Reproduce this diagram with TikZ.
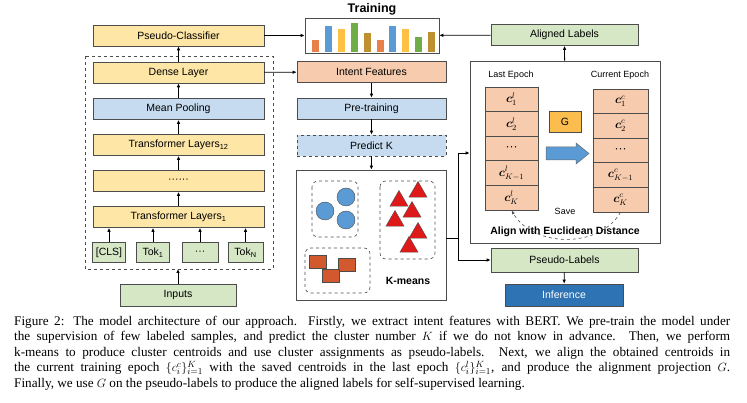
\documentclass[tikz,border=0pt]{standalone}
\usepackage{fontspec}
\usepackage{bm}
\setmainfont{Liberation Serif}
\newfontfamily\diag{Liberation Sans}
\usetikzlibrary{arrows.meta,shapes.geometric}
\definecolor{yel}{HTML}{FDE6A6}
\definecolor{blu}{HTML}{C6DBEF}
\definecolor{grn}{HTML}{D6E7C6}
\definecolor{sal}{HTML}{F7CBAE}
\definecolor{inf}{HTML}{2E73B3}
\definecolor{gcol}{HTML}{FBBE4E}
\definecolor{cbo}{HTML}{E8804A}
\definecolor{cbb}{HTML}{5B9BD5}
\definecolor{cby}{HTML}{FFC145}
\definecolor{cbg}{HTML}{70AD47}
\definecolor{cbr}{HTML}{BF9030}
\begin{document}
\begin{tikzpicture}[x=1pt,y=-1pt,
  box/.style={draw=black!70,line width=0.6pt,inner sep=0pt,font=\diag\fontsize{10.5}{12}\selectfont},
  yb/.style={box,fill=yel,minimum width=171pt,minimum height=21pt},
  lbb/.style={box,fill=blu,minimum width=171pt,minimum height=21pt},
  tk/.style={box,fill=grn,minimum width=33pt,minimum height=20pt},
  rb/.style={box,minimum width=149pt,minimum height=21pt},
  arr/.style={-{Latex[length=4pt,width=3.5pt]},line width=0.8pt},
  cell/.style={box,fill=sal,minimum width=53pt,minimum height=24.6pt,font=\fontsize{12}{13}\selectfont},
  grp/.style={draw=black!70,dashed,rounded corners=6pt,line width=0.6pt}]
\useasboundingbox (0,0) rectangle (747,403);
% left column
\draw[dashed,line width=0.6pt,black!70] (85,56) rectangle (273,269);
\node[yb] (pc) at (178.5,35.5) {Pseudo-Classifier};
\node[yb] (dl) at (178.5,72.5) {Dense Layer};
\node[lbb] (mp) at (178.5,109) {Mean Pooling};
\node[yb] (t12) at (178.5,145) {Transformer Layers\textsubscript{12}};
\node[yb] (td) at (178.5,181) {\textperiodcentered\textperiodcentered\textperiodcentered\textperiodcentered\textperiodcentered\textperiodcentered};
\node[yb] (t1) at (178.5,217) {Transformer Layers\textsubscript{1}};
\node[tk] (cls) at (109,252.5) {[CLS]};
\node[tk] (tok1) at (153,252.5) {Tok\textsubscript{1}};
\node[tk,minimum width=36pt] (tokd) at (200,252.5) {\textperiodcentered\textperiodcentered\textperiodcentered};
\node[tk,minimum width=35pt] (tokn) at (245.5,252.5) {Tok\textsubscript{N}};
\node[box,fill=grn,minimum width=116pt,minimum height=22pt] (inp) at (178,295) {Inputs};
\coordinate (dbot) at (178,269);
\draw[arr] (inp) -- (dbot);
\foreach \t in {cls,tok1,tokd,tokn} \draw[arr] (\t) -- (\t |- t1.south);
\draw[arr] (t1) -- (td);
\draw[arr] (td) -- (t12);
\draw[arr] (t12) -- (mp);
\draw[arr] (mp) -- (dl);
\draw[arr] (dl) -- (pc);
% training
\node[font=\diag\bfseries\fontsize{12.5}{14}\selectfont] (tr) at (372,9) {Training};
\node[draw=black!70,line width=0.6pt,minimum width=134pt,minimum height=35pt,inner sep=0] (bars) at (372,35.5) {};
\foreach \x/\t/\c in {0/40/cbo,1/26/cbb,2/29/cby,3/23/cbg,4/33/cbr,5/40/cbo,6/26/cbb,7/29/cby,8/37/cbg,9/32/cbr}
  \fill[\c] (312+\x*12.9,52) rectangle (319+\x*12.9,\t);
\draw[arr] (pc) -- (bars);
% middle
\node[rb,fill=sal] (if) at (371.5,72) {Intent Features};
\node[rb,fill=blu] (pt) at (371.5,108.5) {Pre-training};
\node[rb,fill=blu,dashed] (pk) at (371.5,145.5) {Predict K};
\node[draw=black!70,line width=0.6pt,minimum width=150pt,minimum height=130pt,inner sep=0] (km) at (371,235) {};
\draw[arr] (dl) -- (if);
\draw[arr] (if) -- (pt);
\draw[arr] (pt) -- (pk);
\draw[arr] (pk) -- (km);
\draw[grp] (312,181) rectangle (358,237);
\foreach \p in {(325,211),(346,197),(346,220)} \node[circle,fill=cbb,draw=black!70,minimum size=18pt,inner sep=0] at \p {};
\draw[grp] (380,181) rectangle (435,259);
\foreach \p in {(399,201),(418,192),(412,212),(395,221),(418,233),(409,247)}
  \node[regular polygon,regular polygon sides=3,fill=red!85!black!90,draw=black!70,minimum size=21pt,inner sep=0] at \p {};
\draw[grp] (305,248) rectangle (370,293);
\foreach \p in {(318,262),(347,265),(331,276)}
  \node[fill=brown!70!red,draw=black!70,minimum width=17pt,minimum height=13pt,inner sep=0] at \p {};
\node[font=\diag\bfseries\fontsize{10.5}{12}\selectfont] (kml) at (408,281) {K-means};
% right
\node[rb,fill=grn,minimum width=147pt] (al) at (564.5,35) {Aligned Labels};
\node[draw=black!70,line width=0.6pt,minimum width=190pt,minimum height=182pt,inner sep=0] (ab) at (565,152) {};
\node[rb,fill=grn,minimum width=147pt,minimum height=24pt] (pl) at (564.5,260) {Pseudo-Labels};
\node[box,fill=inf,text=white,minimum width=118pt,minimum height=22pt] (inf) at (564,295) {Inference};
\draw[arr] (al) -- (bars);
\draw[arr] (ab) -- (al);
\draw[arr] (pl) -- (inf);
\coordinate (kmo) at (446,238);
\coordinate (sp) at (458,238);
\draw[line width=0.8pt] (kmo) -- (sp);
\draw[arr] (sp) |- (ab.west |- 0,153);
\draw[arr] (sp) |- (pl.west);
\node[font=\diag\fontsize{9}{10}\selectfont] (le) at (511,75) {Last Epoch};
\node[font=\diag\fontsize{9}{10}\selectfont] (ce) at (620,75) {Current Epoch};
\foreach \i/\lab in {0/{$\bm{c}^{l}_{1}$},1/{$\bm{c}^{l}_{2}$},2/{\diag\textperiodcentered\textperiodcentered\textperiodcentered},3/{$\bm{c}^{l}_{K-1}$},4/{$\bm{c}^{l}_{K}$}}
  \node[cell] (l\i) at (511.5,99.3+\i*24.6) {\lab};
\foreach \i/\lab in {0/{$\bm{c}^{c}_{1}$},1/{$\bm{c}^{c}_{2}$},2/{\diag\textperiodcentered\textperiodcentered\textperiodcentered},3/{$\bm{c}^{c}_{K-1}$},4/{$\bm{c}^{c}_{K}$}}
  \node[cell,minimum width=55pt] (c\i) at (620.5,101.3+\i*24.6) {\lab};
\node[box,fill=gcol,minimum width=32pt,minimum height=21pt] (g) at (565,121.5) {G};
\filldraw[fill=cbb,draw=black!60,line width=0.5pt] (546,147) -- (576,147) -- (576,143) -- (589,153.5) -- (576,164) -- (576,160) -- (546,160) -- cycle;
\draw[dashed,black!70,-{Latex[length=4pt]},line width=0.6pt] (c4.south) to[out=-120,in=-60] (l4.south);
\node[font=\diag\fontsize{9}{10}\selectfont] (sv) at (565,211) {Save};
\node[font=\diag\bfseries\fontsize{10.5}{12}\selectfont] (awd) at (565,232) {Align with Euclidean Distance};
% caption
\node[anchor=north west,inner sep=0,text width=716pt,align=justify,font=\fontsize{13.2}{15.4}\selectfont] (cap) at (14,316) {Figure 2: The model architecture of our approach. Firstly, we extract intent features with BERT. We pre-train the model under\linebreak the supervision of few labeled samples, and predict the cluster number $K$ if we do not know in advance. Then, we perform\linebreak k-means to produce cluster centroids and use cluster assignments as pseudo-labels. Next, we align the obtained centroids in\linebreak the current training epoch $\{c_i^c\}_{i=1}^K$ with the saved centroids in the last epoch $\{c_i^l\}_{i=1}^K$, and produce the alignment projection $G$.\linebreak Finally, we use $G$ on the pseudo-labels to produce the aligned labels for self-supervised learning.};
\end{tikzpicture}
\end{document}
